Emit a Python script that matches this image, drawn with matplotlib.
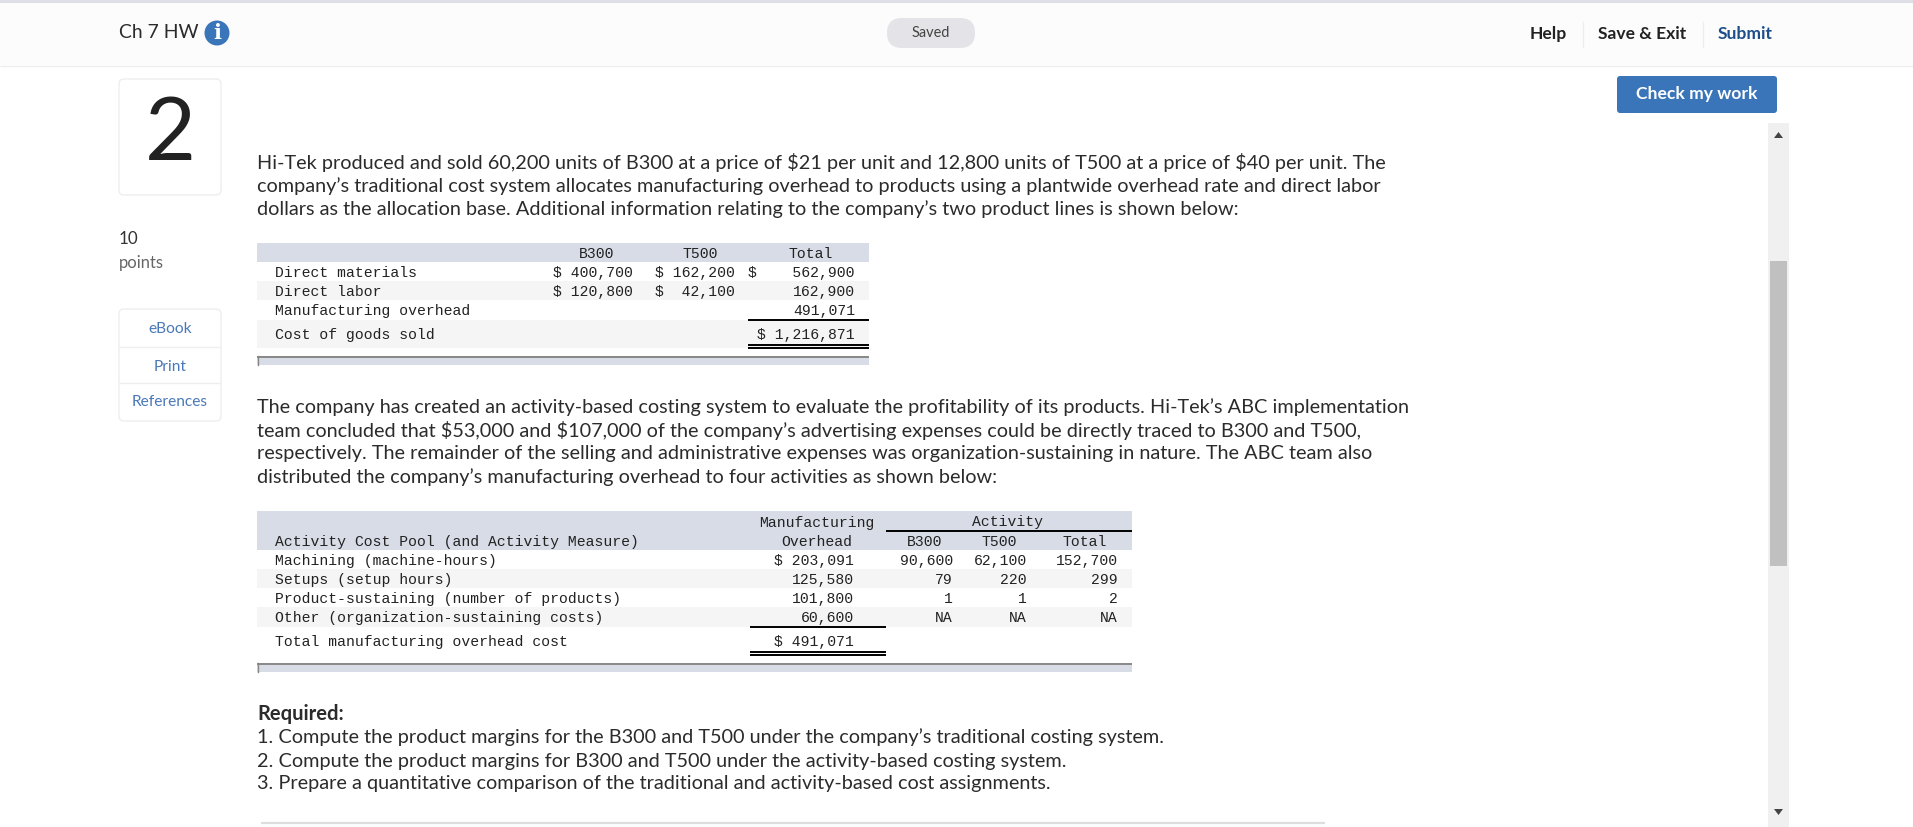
import matplotlib
matplotlib.use("Agg")
import matplotlib.pyplot as plt
from matplotlib.patches import Rectangle, FancyBboxPatch, Circle, Polygon

W, H = 1913, 827
SANS = "Lato"
MONO = "Liberation Mono"
INK = "#2b2b2b"
LINK = "#4a78b8"
BAND = "#d8dce6"
STRIPE = "#f5f5f5"
BODY_PX = 19.85

para_1 = [
    "Hi-Tek produced and sold 60,200 units of B300 at a price of $21 per unit and 12,800 units of T500 at a price of $40 per unit. The",
    "company\u2019s traditional cost system allocates manufacturing overhead to products using a plantwide overhead rate and direct labor",
    "dollars as the allocation base. Additional information relating to the company\u2019s two product lines is shown below:",
]
para_2 = [
    "The company has created an activity-based costing system to evaluate the profitability of its products. Hi-Tek\u2019s ABC implementation",
    "team concluded that $53,000 and $107,000 of the company\u2019s advertising expenses could be directly traced to B300 and T500,",
    "respectively. The remainder of the selling and administrative expenses was organization-sustaining in nature. The ABC team also",
    "distributed the company\u2019s manufacturing overhead to four activities as shown below:",
]
required = [
    "1. Compute the product margins for the B300 and T500 under the company\u2019s traditional costing system.",
    "2. Compute the product margins for B300 and T500 under the activity-based costing system.",
    "3. Prepare a quantitative comparison of the traditional and activity-based cost assignments.",
]

cost_labels = ["Direct materials", "Direct labor", "Manufacturing overhead", "Cost of goods sold"]
cost_b300 = ["$ 400,700", "$ 120,800", "", ""]
cost_t500 = ["$ 162,200", "$  42,100", "", ""]
cost_total = ["$    562,900", "162,900", "491,071", "$ 1,216,871"]

pool_labels = [
    "Machining (machine-hours)",
    "Setups (setup hours)",
    "Product-sustaining (number of products)",
    "Other (organization-sustaining costs)",
    "Total manufacturing overhead cost",
]
pool_overhead = ["$ 203,091", "125,580", "101,800", "60,600", "$ 491,071"]
pool_b300 = ["90,600", "79", "1", "NA", ""]
pool_t500 = ["62,100", "220", "1", "NA", ""]
pool_total = ["152,700", "299", "2", "NA", ""]

fig = plt.figure(figsize=(W / 100, H / 100), dpi=100, facecolor="white")
ax = fig.add_axes([0, 0, 1, 1])
ax.set_xlim(0, W)
ax.set_ylim(H, 0)
ax.axis("off")


def box(x0, y0, x1, y1, color, z=1):
    ax.add_patch(Rectangle((x0, y0), x1 - x0, y1 - y0, fc=color, ec="none", zorder=z))


def rule(x0, x1, y, color="black", lw=1.4):
    ax.plot([x0, x1], [y, y], color=color, lw=lw, solid_capstyle="butt", zorder=3)


def round_box(x0, y0, x1, y1, fc, ec="none", r=5):
    ax.add_patch(FancyBboxPatch((x0, y0), x1 - x0, y1 - y0, boxstyle=f"round,pad=0,rounding_size={r}",
                                fc=fc, ec=ec, lw=1, zorder=2))


def sans(x, y, s, px=20, color=INK, ha="left", weight="normal"):
    # parse_math off, the paragraphs have dollar signs in them
    ax.text(x, y, s, fontsize=px * 0.72, family=SANS, color=color, ha=ha, va="center", weight=weight,
            zorder=4, parse_math=False)


def mono(x, y, s, ha="left", color="#222222"):
    ax.text(x, y + 1, s, fontsize=14.8 * 0.72, family=MONO, color=color, ha=ha, va="center", zorder=4,
            parse_math=False)


# header bar
box(0, 0, W, 65, "#fcfcfc")
box(0, 0, W, 3, "#dedee6", 2)
rule(0, W, 65.5, "#eeeeee", 1)
sans(119, 33, "Ch 7 HW", 19.4)
ax.add_patch(Circle((217, 33), 12.5, fc="#3a75ba", ec="none", zorder=3))
ax.text(217, 33, "i", fontsize=15, family="DejaVu Serif", weight="bold", color="white", ha="center", va="center", zorder=4)
round_box(887, 18, 975, 48, "#e4e4e8", r=15)
sans(931, 33, "Saved", 14.5, "#444444", ha="center")
sans(1530, 34, "Help", 17.5, "#222222", weight="bold")
sans(1598, 34, "Save & Exit", 17.5, "#222222", weight="bold")
sans(1718, 34, "Submit", 17.5, "#1d4e89", weight="bold")
for sx in (1582.5, 1702.5):
    ax.plot([sx, sx], [22, 47], color="#eeeeee", lw=1, zorder=3)
round_box(1617, 76, 1777, 113, "#3a75ba", r=3)
sans(1697, 94, "Check my work", 17.5, "white", ha="center", weight="bold")

# scrollbar
box(1768, 123, 1789, H, "#f0f0f0")
box(1770, 261, 1787, 566, "#c0c0c0", 2)
ax.add_patch(Polygon([(1774, 138), (1783, 138), (1778.5, 132)], fc="#444444", ec="none", zorder=3))
ax.add_patch(Polygon([(1774, 809), (1783, 809), (1778.5, 815)], fc="#444444", ec="none", zorder=3))

# left column
round_box(119, 79, 221, 195, "white", "#eeeeee")
sans(170, 135, "2", 88, "#222222", ha="center")
sans(119, 239, "10", 17, "#333333")
sans(119, 263, "points", 16.5, "#666666")
round_box(119, 309, 221, 421, "white", "#eeeeee")
rule(119, 221, 347, "#eeeeee", 1)
rule(119, 221, 383, "#eeeeee", 1)
sans(170, 329, "eBook", 15.5, LINK, ha="center")
sans(170, 367, "Print", 15.5, LINK, ha="center")
sans(170, 402, "References", 15.5, LINK, ha="center")

# paragraphs
for y, line in zip((162, 185, 208), para_1):
    sans(257, y + 1, line, BODY_PX)
for y, line in zip((406, 429, 452, 476), para_2):
    sans(257, y + 1, line, BODY_PX)
sans(257, 714, "Required:", BODY_PX + 0.3, weight="bold")
for y, line in zip((736, 760, 783), required):
    sans(257, y + 1, line, BODY_PX)
rule(261, 1325, 823, "#dddddd", 1.6)

# cost table
box(257, 243, 869, 262, BAND)
box(257, 281, 869, 300, STRIPE)
box(257, 320, 869, 348, STRIPE)
box(257, 356, 869, 365, BAND)
rule(257, 869, 356.5, "#888888", 1.4)
ax.plot([257.5, 257.5], [356, 365], color="#888888", lw=1, zorder=3)
mono(597, 253, "B300", "center")
mono(700, 253, "T500", "center")
mono(811, 253, "Total", "center")
for y, a, b, c, d in zip((272, 291, 310, 334), cost_labels, cost_b300, cost_t500, cost_total):
    mono(275, y, a)
    mono(633, y, b, "right")
    mono(735, y, c, "right")
    mono(855, y, d, "right")
rule(748, 869, 319.5)
rule(748, 869, 345)
rule(748, 869, 347.5)

# activity table
box(257, 511, 1132, 550, BAND)
box(257, 569, 1132, 588, STRIPE)
box(257, 607, 1132, 627, STRIPE)
box(257, 663, 1132, 672, BAND)
rule(257, 1132, 663.5, "#888888", 1.4)
ax.plot([257.5, 257.5], [663, 672], color="#888888", lw=1, zorder=3)
mono(275, 541, "Activity Cost Pool (and Activity Measure)")
mono(817, 522, "Manufacturing", "center")
mono(817, 541, "Overhead", "center")
mono(1008, 521, "Activity", "center")
rule(886, 1132, 530.5)
mono(925, 541, "B300", "center")
mono(999, 541, "T500", "center")
mono(1085, 541, "Total", "center")
for y, a, b, c, d, e in zip((560, 579, 598, 617, 641), pool_labels, pool_overhead, pool_b300, pool_t500, pool_total):
    mono(275, y, a)
    mono(854, y, b, "right")
    mono(953, y, c, "right")
    mono(1027, y, d, "right")
    mono(1118, y, e, "right")
rule(750, 886, 626.5)
rule(750, 886, 652)
rule(750, 886, 654.5)

fig.savefig("out.png", dpi=100)
